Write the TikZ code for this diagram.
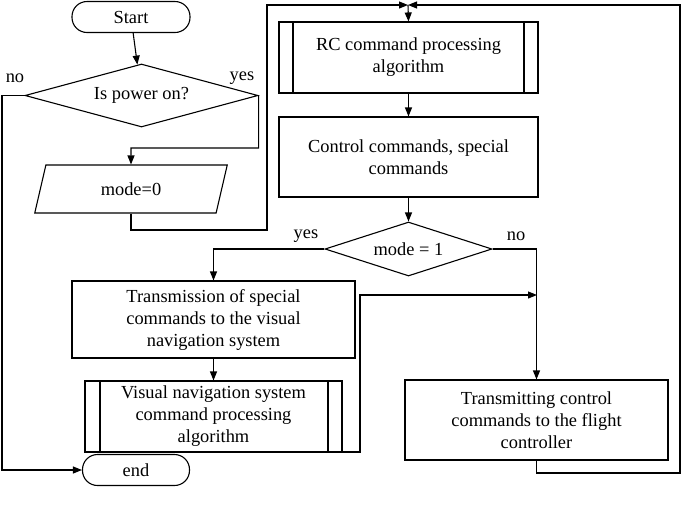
\documentclass[tikz,border=0pt]{standalone}
\usepackage{fontspec}
\setmainfont{Liberation Serif}
\usetikzlibrary{shapes.geometric,arrows.meta}
\begin{document}
\begin{tikzpicture}[x=1pt,y=-1pt,font=\fontsize{18.4}{22}\selectfont,
  line/.style={draw,line width=1.1pt},
  arr/.style={line,-{Triangle[length=9pt,width=7pt]}},
  box/.style={draw,line width=1.1pt,align=center,inner sep=0pt},
  term/.style={box,rounded corners=15pt}]
\useasboundingbox (0,0) rectangle (685,531);
\node[term,minimum width=118pt,minimum height=31pt] (start) at (131,17) {Start};
\node[box,diamond,aspect=3.7,minimum width=233pt,minimum height=63pt] (pw) at (141.5,95.5) {Is power on?};
\node[box,trapezium,trapezium left angle=73,trapezium right angle=107,minimum width=193pt,minimum height=48pt,trapezium stretches=true] (m0) at (131,189) {mode=0};
\node[term,minimum width=107pt,minimum height=31pt] (end) at (136,470) {end};
\node[box,minimum width=259pt,minimum height=71pt] (rc) at (408.5,57.5) {RC command processing\\algorithm};
\draw[line width=1.1pt] (293,22)--(293,93) (524,22)--(524,93);
\node[box,minimum width=259pt,minimum height=80pt] (cc) at (408.5,157) {Control commands, special\\commands};
\node[box,diamond,aspect=3.1,minimum width=167pt,minimum height=54pt] (m1) at (408.5,249) {mode = 1};
\node[box,minimum width=283pt,minimum height=77pt] (ts) at (213.5,319.5) {Transmission of special\\commands to the visual\\navigation system};
\node[box,minimum width=257pt,minimum height=71pt] (vn) at (213.5,416.5) {Visual navigation system\\command processing\\algorithm};
\draw[line width=1.1pt] (100,381)--(100,452) (328,381)--(328,452);
\node[box,minimum width=263pt,minimum height=80pt] (tc) at (536.5,420) {Transmitting control\\commands to the flight\\controller};
\coordinate (top) at (408,5);
\coordinate (mid) at (537,295);
\draw[arr] (start) -- (pw);
\draw[arr] (pw.east) |- (131,148) -- (m0.north);
\draw[arr] (pw.west) -| (2,470) -- (end.west);
\node at (15,78) {no};
\node at (242,78) {yes};
\draw[arr] (m0.south) |- (267,230) |- (top);
\draw[arr] (top) -- (rc.north);
\draw[arr] (rc) -- (cc);
\draw[arr] (cc) -- (m1);
\draw[arr] (m1.west) -| (ts.north);
\node at (306,236) {yes};
\node at (516,236) {no};
\draw[arr] (m1.east) -| (tc.north);
\draw[arr] (ts) -- (vn);
\draw[arr] (vn.south) |- (360,452) |- (mid);
\draw[arr] (tc.south) |- (680,473) |- (top);
\end{tikzpicture}
\end{document}
